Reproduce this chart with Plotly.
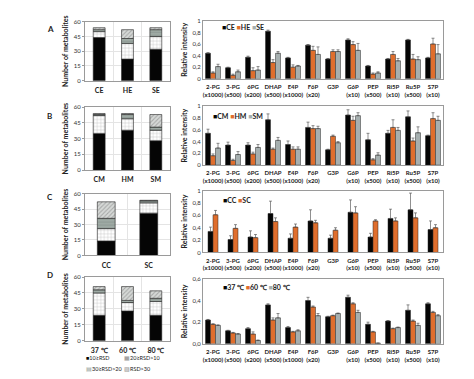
import numpy as np
import plotly.graph_objects as go

W, H = 474, 379
FONT = "Lato"

# ---------------- stacked RSD data (number of metabolites) ----------------
rsd_names = ["10≥RSD", "20≥RSD>10", "30≥RSD>20", "RSD>30"]

A_cats = ["CE", "HE", "SE"]
A_rsd10 = [44, 22, 32]
A_rsd20 = [6, 16, 13]
A_rsd30 = [2, 5, 7]
A_rsdhi = [2, 9, 2]

B_cats = ["CM", "HM", "SM"]
B_rsd10 = [35, 38, 28]
B_rsd20 = [17, 11, 10]
B_rsd30 = [1, 4, 3]
B_rsdhi = [1, 1, 12]

C_cats = ["CC", "SC"]
C_rsd10 = [14, 41]
C_rsd20 = [12, 10]
C_rsd30 = [10, 2]
C_rsdhi = [16, 0.5]

D_cats = ["37 ℃", "60 ℃", "80 ℃"]
D_rsd10 = [24, 28, 24]
D_rsd20 = [21, 8, 13]
D_rsd30 = [3, 2, 3]
D_rsdhi = [3, 13, 7]

# ---------------- relative intensity data ----------------
metabolites = ["2-PG<br>(x1000)", "3-PG<br>(x500)", "6PG<br>(x200)", "DHAP<br>(x500)",
               "E4P<br>(x1000)", "F6P<br>(x20)", "G3P", "G6P<br>(x10)",
               "PEP<br>(x500)", "Ri5P<br>(x10)", "Ru5P<br>(x500)", "S7P<br>(x10)"]

A_series = ["CE", "HE", "SE"]
A_CE = [0.44, 0.19, 0.37, 0.82, 0.36, 0.58, 0.34, 0.67, 0.22, 0.34, 0.67, 0.36]
A_HE = [0.10, 0.06, 0.14, 0.28, 0.20, 0.49, 0.47, 0.59, 0.08, 0.42, 0.34, 0.60]
A_SE = [0.21, 0.12, 0.15, 0.44, 0.22, 0.42, 0.47, 0.49, 0.10, 0.31, 0.33, 0.43]
A_CE_err = [0.01, 0.01, 0.02, 0.02, 0.01, 0.01, 0.01, 0.02, 0.01, 0.01, 0.01, 0.01]
A_HE_err = [0.02, 0.02, 0.05, 0.05, 0.04, 0.07, 0.03, 0.05, 0.02, 0.05, 0.08, 0.10]
A_SE_err = [0.04, 0.03, 0.06, 0.03, 0.01, 0.13, 0.03, 0.12, 0.02, 0.04, 0.05, 0.16]

B_series = ["CM", "HM", "SM"]
B_CM = [0.54, 0.34, 0.34, 0.77, 0.35, 0.64, 0.26, 0.85, 0.43, 0.54, 0.82, 0.50]
B_HM = [0.16, 0.08, 0.19, 0.27, 0.27, 0.62, 0.49, 0.76, 0.09, 0.64, 0.41, 0.79]
B_SM = [0.29, 0.18, 0.30, 0.42, 0.27, 0.62, 0.38, 0.84, 0.17, 0.59, 0.55, 0.76]
B_CM_err = [0.07, 0.05, 0.04, 0.10, 0.06, 0.09, 0.01, 0.09, 0.11, 0.05, 0.10, 0.01]
B_HM_err = [0.03, 0.02, 0.03, 0.02, 0.04, 0.05, 0.02, 0.07, 0.02, 0.13, 0.05, 0.10]
B_SM_err = [0.08, 0.05, 0.05, 0.05, 0.04, 0.04, 0.02, 0.05, 0.04, 0.05, 0.10, 0.07]

C_series = ["CC", "SC"]
C_CC = [0.34, 0.21, 0.25, 0.63, 0.23, 0.51, 0.23, 0.65, 0.25, 0.55, 0.69, 0.37]
C_SC = [0.61, 0.39, 0.24, 0.50, 0.41, 0.48, 0.36, 0.64, 0.51, 0.51, 0.56, 0.40]
C_CC_err = [0.07, 0.06, 0.10, 0.20, 0.07, 0.18, 0.05, 0.20, 0.06, 0.15, 0.27, 0.14]
C_SC_err = [0.07, 0.06, 0.05, 0.06, 0.05, 0.04, 0.04, 0.10, 0.02, 0.05, 0.08, 0.05]

D_series = ["37 ℃", "60 ℃", "80 ℃"]
D_37 = [0.22, 0.12, 0.14, 0.36, 0.15, 0.40, 0.25, 0.43, 0.18, 0.21, 0.31, 0.37]
D_60 = [0.18, 0.10, 0.09, 0.22, 0.11, 0.34, 0.26, 0.37, 0.11, 0.14, 0.21, 0.29]
D_80 = [0.17, 0.09, 0.03, 0.24, 0.12, 0.26, 0.28, 0.29, 0.005, 0.15, 0.17, 0.26]
D_37_err = [0.005, 0.005, 0.01, 0.01, 0.01, 0.03, 0.005, 0.02, 0.02, 0.005, 0.05, 0.01]
D_60_err = [0.005, 0.005, 0.02, 0.02, 0.005, 0.01, 0.005, 0.01, 0.005, 0.005, 0.01, 0.01]
D_80_err = [0.005, 0.005, 0.005, 0.04, 0.01, 0.02, 0.005, 0.02, 0.002, 0.005, 0.02, 0.01]

# ---------------- styles ----------------
BLACK = "#050505"
ORANGE = "#DF6E2D"
GRAY = "#A6AFAF"
series_colors = [BLACK, ORANGE, GRAY]

stack_styles = [
    dict(color=BLACK),
    dict(color="white", pattern=dict(shape="+", fgcolor="#8a8a8a", size=3.5, solidity=0.25, fillmode="overlay")),
    dict(color="#9EAAA4", pattern=dict(shape="-", fgcolor="#7d8883", size=3, solidity=0.3, fillmode="overlay")),
    dict(color="#D6D9D7", pattern=dict(shape="/", fgcolor="#7a7a7a", size=3, solidity=0.35, fillmode="overlay")),
]


def px_x(a, b):
    return [a / W, b / W]


def px_y(top, bottom):
    return [1 - bottom / H, 1 - top / H]


fig = go.Figure()

rows = [
    dict(cats=A_cats, stacks=[A_rsd10, A_rsd20, A_rsd30, A_rsdhi],
         series=A_series, vals=[A_CE, A_HE, A_SE], errs=[A_CE_err, A_HE_err, A_SE_err],
         ly=(10, 70), ry=(9, 68), ymax=1.0, letter_y=10, leg=(212, 15), gap=0.25),
    dict(cats=B_cats, stacks=[B_rsd10, B_rsd20, B_rsd30, B_rsdhi],
         series=B_series, vals=[B_CM, B_HM, B_SM], errs=[B_CM_err, B_HM_err, B_SM_err],
         ly=(97, 161), ry=(96, 156), ymax=1.0, letter_y=99, leg=(203, 106), gap=0.25),
    dict(cats=C_cats, stacks=[C_rsd10, C_rsd20, C_rsd30, C_rsdhi],
         series=C_series, vals=[C_CC, C_SC], errs=[C_CC_err, C_SC_err],
         ly=(185, 248), ry=(182, 245), ymax=1.0, letter_y=188, leg=(213, 192), gap=0.5),
    dict(cats=D_cats, stacks=[D_rsd10, D_rsd20, D_rsd30, D_rsdhi],
         series=D_series, vals=[D_37, D_60, D_80], errs=[D_37_err, D_60_err, D_80_err],
         ly=(270, 335), ry=(272, 338), ymax=0.6, letter_y=275, leg=(213, 280), gap=0.25),
]

layout_axes = {}
annotations = []
letters = ["A", "B", "C", "D"]
SLOT = 20.0  # px per category on right panels

for i, r in enumerate(rows):
    li = 2 * i + 1
    ri = 2 * i + 2
    # stacked bars: each segment starts at the cumulative total of the segments below
    base = np.zeros(len(r["cats"]))
    bw_left = 0.42
    for k in range(4):
        seg = np.array(r["stacks"][k], dtype=float)
        fig.add_trace(go.Bar(
            x=r["cats"], y=seg, base=base.copy(), name=rsd_names[k], width=bw_left,
            marker=dict(line=dict(color="#222", width=0.6), **stack_styles[k]),
            xaxis=f"x{li}", yaxis=f"y{li}", showlegend=False,
        ))
        base = base + seg
    # grouped bars with error bars
    n_s = len(r["series"])
    bw = (1 - r["gap"]) / n_s
    for s, name in enumerate(r["series"]):
        off = -(1 - r["gap"]) / 2 + s * bw
        fig.add_trace(go.Bar(
            x=metabolites, y=r["vals"][s], name=name, width=bw, offset=off,
            marker=dict(color=series_colors[s], line=dict(color="#2a2a2a", width=0.5)),
            error_y=dict(type="data", array=r["errs"][s], arrayminus=[0] * len(metabolites),
                         symmetric=False, color="#444", thickness=0.6, width=1.5),
            xaxis=f"x{ri}", yaxis=f"y{ri}", showlegend=False,
        ))

    axis_common = dict(showline=True, mirror=True, linecolor="#9a9a9a", linewidth=1,
                       zeroline=False, fixedrange=True)
    layout_axes[f"xaxis{li}"] = dict(domain=px_x(77, 162), anchor=f"y{li}", type="category",
                                     showgrid=True, gridcolor="#e4e4e4", tickson="boundaries",
                                     ticks="", ticklabelstandoff=3,
                                     tickfont=dict(size=7, family=FONT, weight="bold", color="#222"),
                                     **axis_common)
    layout_axes[f"yaxis{li}"] = dict(domain=px_y(*r["ly"]), anchor=f"x{li}", range=[0, 60],
                                     tickvals=[0, 15, 30, 45, 60], showgrid=True, gridcolor="#e4e4e4",
                                     ticks="outside", ticklen=2, tickcolor="#9a9a9a",
                                     tickfont=dict(size=6, family=FONT, color="#333"),
                                     title=dict(text="Number of metabolites", standoff=4,
                                                font=dict(size=7, family=FONT, weight="bold", color="#222")),
                                     **axis_common)
    layout_axes[f"xaxis{ri}"] = dict(domain=px_x(195, 435), anchor=f"y{ri}", type="category",
                                     showgrid=False, ticks="", ticklabelstandoff=2,
                                     tickfont=dict(size=6, family=FONT, weight="bold", color="#222"),
                                     tickangle=0, **axis_common)
    ymax = r["ymax"]
    if ymax == 1.0:
        tv = [0, 0.2, 0.4, 0.6, 0.8, 1.0]
        tf = None
    else:
        tv = [0, 0.2, 0.4, 0.6]
        tf = ".1f"
    yax = dict(domain=px_y(*r["ry"]), anchor=f"x{ri}", range=[0, ymax], tickvals=tv,
               showgrid=False, ticks="",
               tickfont=dict(size=6, family=FONT, color="#333"),
               title=dict(text="Relative intensity", standoff=4,
                          font=dict(size=7, family=FONT, weight="bold", color="#222")),
               **axis_common)
    if tf:
        yax["tickformat"] = tf
    layout_axes[f"yaxis{ri}"] = yax

    # panel letter
    annotations.append(dict(text=f"<b>{letters[i]}</b>", x=37 / W, y=1 - r["letter_y"] / H,
                            xref="paper", yref="paper", showarrow=False,
                            font=dict(size=8, family=FONT, color="#222")))
    # legend for grouped bars
    parts = []
    for s, name in enumerate(r["series"]):
        parts.append(f"<span style='color:{series_colors[s]}'>■</span>{name}")
    annotations.append(dict(text="<b>" + " ".join(parts) + "</b>",
                            x=r["leg"][0] / W, y=1 - r["leg"][1] / H, xref="paper", yref="paper",
                            xanchor="left", yanchor="middle", showarrow=False,
                            font=dict(size=7, family=FONT, color="#222")))

# legend for stacked bars (below panel D)
stack_leg = [
    (76, 353, f"<span style='color:{BLACK}'>■</span>{rsd_names[0]}"),
    (114, 353, f"<span style='color:#888'>▦</span>{rsd_names[1]}"),
    (76, 364, f"<span style='color:#8f9b95'>▤</span>{rsd_names[2]}"),
    (114, 364, f"<span style='color:#888'>▨</span>{rsd_names[3]}"),
]
for x0, y0, txt in stack_leg:
    annotations.append(dict(text=txt, x=x0 / W, y=1 - y0 / H, xref="paper", yref="paper",
                            xanchor="left", yanchor="middle", showarrow=False,
                            font=dict(size=5.5, family=FONT, color="#222")))

fig.update_layout(
    width=W, height=H,
    margin=dict(l=0, r=0, t=0, b=0),
    paper_bgcolor="white", plot_bgcolor="white",
    barmode="overlay",
    separators=", ",
    annotations=annotations,
    showlegend=False,
    font=dict(family=FONT),
    **layout_axes,
)

fig.write_html("out.html")
